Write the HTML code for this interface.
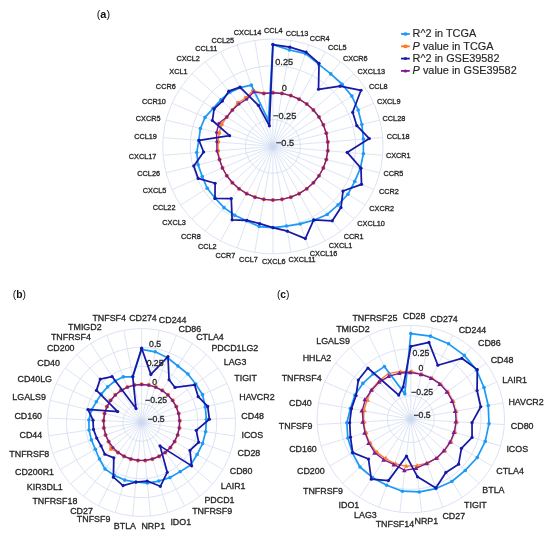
<!DOCTYPE html>
<html><head><meta charset="utf-8"><style>
html,body{margin:0;padding:0;background:#fff;}
svg{display:block;font-family:"Liberation Sans",Arial,Helvetica,sans-serif;}
</style></head><body>
<svg width="550" height="539" viewBox="0 0 550 539">
<defs><radialGradient id="blob"><stop offset="0" stop-color="#c6d5ec" stop-opacity="0.9"/><stop offset="0.55" stop-color="#cfdcf0" stop-opacity="0.6"/><stop offset="1" stop-color="#dde6f5" stop-opacity="0"/></radialGradient></defs>
<rect width="550" height="539" fill="#fff"/>
<ellipse cx="272.9" cy="146.4" rx="27.54" ry="26.85" fill="none" stroke="#d6dff3" stroke-width="0.9"/>
<ellipse cx="272.9" cy="146.4" rx="55.08" ry="53.7" fill="none" stroke="#d6dff3" stroke-width="0.9"/>
<ellipse cx="272.9" cy="146.4" rx="82.61" ry="80.55" fill="none" stroke="#d6dff3" stroke-width="0.9"/>
<ellipse cx="272.9" cy="146.4" rx="110.15" ry="107.4" fill="none" stroke="#d6dff3" stroke-width="0.9"/>
<path d="M272.9 146.4L272.9 39M272.9 146.4L291.03 40.46M272.9 146.4L308.67 44.82M272.9 146.4L325.33 51.94M272.9 146.4L340.56 61.65M272.9 146.4L353.94 73.66M272.9 146.4L365.11 87.66M272.9 146.4L373.77 103.26M272.9 146.4L379.68 120.03M272.9 146.4L382.67 137.53M272.9 146.4L382.67 155.27M272.9 146.4L379.68 172.77M272.9 146.4L373.77 189.54M272.9 146.4L365.11 205.14M272.9 146.4L353.94 219.14M272.9 146.4L340.56 231.15M272.9 146.4L325.33 240.86M272.9 146.4L308.67 247.98M272.9 146.4L291.03 252.34M272.9 146.4L272.9 253.8M272.9 146.4L254.77 252.34M272.9 146.4L237.13 247.98M272.9 146.4L220.47 240.86M272.9 146.4L205.24 231.15M272.9 146.4L191.86 219.14M272.9 146.4L180.69 205.14M272.9 146.4L172.03 189.54M272.9 146.4L166.12 172.77M272.9 146.4L163.13 155.27M272.9 146.4L163.13 137.53M272.9 146.4L166.12 120.03M272.9 146.4L172.03 103.26M272.9 146.4L180.69 87.66M272.9 146.4L191.86 73.66M272.9 146.4L205.24 61.65M272.9 146.4L220.47 51.94M272.9 146.4L237.13 44.82M272.9 146.4L254.77 40.46" stroke="#d6dff3" stroke-width="0.85" fill="none"/>
<circle cx="272.9" cy="146.4" r="6.5" fill="url(#blob)"/>
<polygon points="272.9,92.7 281.97,93.43 290.78,95.61 299.11,99.17 306.73,104.02 313.42,110.03 319.01,117.03 323.34,124.83 326.29,133.22 327.79,141.97 327.79,150.83 326.29,159.58 323.34,167.97 319.01,175.77 313.42,182.77 306.73,188.78 299.11,193.63 290.78,197.19 281.97,199.37 272.9,200.1 263.83,199.37 255.02,197.19 246.69,193.63 239.07,188.78 232.38,182.77 226.79,175.77 222.46,167.97 219.51,159.58 218.01,150.83 218.01,141.97 219.08,133.11 221.56,124.44 226.79,117.03 232.38,110.03 238.06,102.75 245.9,97.76 253.23,90.53 263.83,93.43" fill="none" stroke="#ff7b2c" stroke-width="1.3" stroke-linejoin="round"/>
<circle cx="272.9" cy="92.7" r="2.1" fill="#ff7b2c"/>
<circle cx="281.97" cy="93.43" r="2.1" fill="#ff7b2c"/>
<circle cx="290.78" cy="95.61" r="2.1" fill="#ff7b2c"/>
<circle cx="299.11" cy="99.17" r="2.1" fill="#ff7b2c"/>
<circle cx="306.73" cy="104.02" r="2.1" fill="#ff7b2c"/>
<circle cx="313.42" cy="110.03" r="2.1" fill="#ff7b2c"/>
<circle cx="319.01" cy="117.03" r="2.1" fill="#ff7b2c"/>
<circle cx="323.34" cy="124.83" r="2.1" fill="#ff7b2c"/>
<circle cx="326.29" cy="133.22" r="2.1" fill="#ff7b2c"/>
<circle cx="327.79" cy="141.97" r="2.1" fill="#ff7b2c"/>
<circle cx="327.79" cy="150.83" r="2.1" fill="#ff7b2c"/>
<circle cx="326.29" cy="159.58" r="2.1" fill="#ff7b2c"/>
<circle cx="323.34" cy="167.97" r="2.1" fill="#ff7b2c"/>
<circle cx="319.01" cy="175.77" r="2.1" fill="#ff7b2c"/>
<circle cx="313.42" cy="182.77" r="2.1" fill="#ff7b2c"/>
<circle cx="306.73" cy="188.78" r="2.1" fill="#ff7b2c"/>
<circle cx="299.11" cy="193.63" r="2.1" fill="#ff7b2c"/>
<circle cx="290.78" cy="197.19" r="2.1" fill="#ff7b2c"/>
<circle cx="281.97" cy="199.37" r="2.1" fill="#ff7b2c"/>
<circle cx="272.9" cy="200.1" r="2.1" fill="#ff7b2c"/>
<circle cx="263.83" cy="199.37" r="2.1" fill="#ff7b2c"/>
<circle cx="255.02" cy="197.19" r="2.1" fill="#ff7b2c"/>
<circle cx="246.69" cy="193.63" r="2.1" fill="#ff7b2c"/>
<circle cx="239.07" cy="188.78" r="2.1" fill="#ff7b2c"/>
<circle cx="232.38" cy="182.77" r="2.1" fill="#ff7b2c"/>
<circle cx="226.79" cy="175.77" r="2.1" fill="#ff7b2c"/>
<circle cx="222.46" cy="167.97" r="2.1" fill="#ff7b2c"/>
<circle cx="219.51" cy="159.58" r="2.1" fill="#ff7b2c"/>
<circle cx="218.01" cy="150.83" r="2.1" fill="#ff7b2c"/>
<circle cx="218.01" cy="141.97" r="2.1" fill="#ff7b2c"/>
<circle cx="219.08" cy="133.11" r="2.1" fill="#ff7b2c"/>
<circle cx="221.56" cy="124.44" r="2.1" fill="#ff7b2c"/>
<circle cx="226.79" cy="117.03" r="2.1" fill="#ff7b2c"/>
<circle cx="232.38" cy="110.03" r="2.1" fill="#ff7b2c"/>
<circle cx="238.06" cy="102.75" r="2.1" fill="#ff7b2c"/>
<circle cx="245.9" cy="97.76" r="2.1" fill="#ff7b2c"/>
<circle cx="253.23" cy="90.53" r="2.1" fill="#ff7b2c"/>
<circle cx="263.83" cy="93.43" r="2.1" fill="#ff7b2c"/>
<polygon points="272.9,44.6 289.4,49.98 305.55,53.68 318.58,64.1 330.76,73.92 342.14,84.25 351.84,96.11 358.16,109.93 361.84,124.44 363.38,139.09 363.37,153.71 360.42,168.01 354.79,181.42 347.96,194.21 338.09,204.91 327.21,214.44 313.85,220.17 300.2,223.93 286.53,226.06 272.9,227.6 259.18,226.55 246.72,220.74 234.7,215.23 224,207.65 215.17,198.22 207.22,188.24 202.25,176.62 198.19,164.85 196.74,152.55 198.8,140.41 200.42,128.5 205.04,117.38 213.14,108.33 220.94,99.76 229.76,92.36 240.27,87.62 251.34,85.15 268.43,120.29" fill="none" stroke="#1b99f7" stroke-width="1.7" stroke-linejoin="round"/>
<circle cx="272.9" cy="44.6" r="1.8" fill="#1b99f7"/>
<circle cx="289.4" cy="49.98" r="1.8" fill="#1b99f7"/>
<circle cx="305.55" cy="53.68" r="1.8" fill="#1b99f7"/>
<circle cx="318.58" cy="64.1" r="1.8" fill="#1b99f7"/>
<circle cx="330.76" cy="73.92" r="1.8" fill="#1b99f7"/>
<circle cx="342.14" cy="84.25" r="1.8" fill="#1b99f7"/>
<circle cx="351.84" cy="96.11" r="1.8" fill="#1b99f7"/>
<circle cx="358.16" cy="109.93" r="1.8" fill="#1b99f7"/>
<circle cx="361.84" cy="124.44" r="1.8" fill="#1b99f7"/>
<circle cx="363.38" cy="139.09" r="1.8" fill="#1b99f7"/>
<circle cx="363.37" cy="153.71" r="1.8" fill="#1b99f7"/>
<circle cx="360.42" cy="168.01" r="1.8" fill="#1b99f7"/>
<circle cx="354.79" cy="181.42" r="1.8" fill="#1b99f7"/>
<circle cx="347.96" cy="194.21" r="1.8" fill="#1b99f7"/>
<circle cx="338.09" cy="204.91" r="1.8" fill="#1b99f7"/>
<circle cx="327.21" cy="214.44" r="1.8" fill="#1b99f7"/>
<circle cx="313.85" cy="220.17" r="1.8" fill="#1b99f7"/>
<circle cx="300.2" cy="223.93" r="1.8" fill="#1b99f7"/>
<circle cx="286.53" cy="226.06" r="1.8" fill="#1b99f7"/>
<circle cx="272.9" cy="227.6" r="1.8" fill="#1b99f7"/>
<circle cx="259.18" cy="226.55" r="1.8" fill="#1b99f7"/>
<circle cx="246.72" cy="220.74" r="1.8" fill="#1b99f7"/>
<circle cx="234.7" cy="215.23" r="1.8" fill="#1b99f7"/>
<circle cx="224" cy="207.65" r="1.8" fill="#1b99f7"/>
<circle cx="215.17" cy="198.22" r="1.8" fill="#1b99f7"/>
<circle cx="207.22" cy="188.24" r="1.8" fill="#1b99f7"/>
<circle cx="202.25" cy="176.62" r="1.8" fill="#1b99f7"/>
<circle cx="198.19" cy="164.85" r="1.8" fill="#1b99f7"/>
<circle cx="196.74" cy="152.55" r="1.8" fill="#1b99f7"/>
<circle cx="198.8" cy="140.41" r="1.8" fill="#1b99f7"/>
<circle cx="200.42" cy="128.5" r="1.8" fill="#1b99f7"/>
<circle cx="205.04" cy="117.38" r="1.8" fill="#1b99f7"/>
<circle cx="213.14" cy="108.33" r="1.8" fill="#1b99f7"/>
<circle cx="220.94" cy="99.76" r="1.8" fill="#1b99f7"/>
<circle cx="229.76" cy="92.36" r="1.8" fill="#1b99f7"/>
<circle cx="240.27" cy="87.62" r="1.8" fill="#1b99f7"/>
<circle cx="251.34" cy="85.15" r="1.8" fill="#1b99f7"/>
<circle cx="268.43" cy="120.29" r="1.8" fill="#1b99f7"/>
<polygon points="272.9,92.7 281.97,93.43 290.78,95.61 299.11,99.17 306.73,104.02 313.42,110.03 319.01,117.03 323.34,124.83 326.29,133.22 327.79,141.97 327.79,150.83 326.29,159.58 323.34,167.97 319.01,175.77 313.42,182.77 306.73,188.78 299.11,193.63 290.78,197.19 281.97,199.37 272.9,200.1 263.83,199.37 255.02,197.19 246.69,193.63 239.07,188.78 232.38,182.77 226.79,175.77 222.46,167.97 219.51,159.58 216.92,150.92 216.81,141.87 216.52,132.48 218.93,123.32 226.79,117.03 232.38,110.03 239.07,104.02 246.69,99.17 253.77,92.05 263.83,93.43" fill="none" stroke="#7d1d8c" stroke-width="1.4" stroke-linejoin="round"/>
<circle cx="272.9" cy="92.7" r="1.5" fill="#7d1d8c"/>
<circle cx="281.97" cy="93.43" r="1.5" fill="#7d1d8c"/>
<circle cx="290.78" cy="95.61" r="1.5" fill="#7d1d8c"/>
<circle cx="299.11" cy="99.17" r="1.5" fill="#7d1d8c"/>
<circle cx="306.73" cy="104.02" r="1.5" fill="#7d1d8c"/>
<circle cx="313.42" cy="110.03" r="1.5" fill="#7d1d8c"/>
<circle cx="319.01" cy="117.03" r="1.5" fill="#7d1d8c"/>
<circle cx="323.34" cy="124.83" r="1.5" fill="#7d1d8c"/>
<circle cx="326.29" cy="133.22" r="1.5" fill="#7d1d8c"/>
<circle cx="327.79" cy="141.97" r="1.5" fill="#7d1d8c"/>
<circle cx="327.79" cy="150.83" r="1.5" fill="#7d1d8c"/>
<circle cx="326.29" cy="159.58" r="1.5" fill="#7d1d8c"/>
<circle cx="323.34" cy="167.97" r="1.5" fill="#7d1d8c"/>
<circle cx="319.01" cy="175.77" r="1.5" fill="#7d1d8c"/>
<circle cx="313.42" cy="182.77" r="1.5" fill="#7d1d8c"/>
<circle cx="306.73" cy="188.78" r="1.5" fill="#7d1d8c"/>
<circle cx="299.11" cy="193.63" r="1.5" fill="#7d1d8c"/>
<circle cx="290.78" cy="197.19" r="1.5" fill="#7d1d8c"/>
<circle cx="281.97" cy="199.37" r="1.5" fill="#7d1d8c"/>
<circle cx="272.9" cy="200.1" r="1.5" fill="#7d1d8c"/>
<circle cx="263.83" cy="199.37" r="1.5" fill="#7d1d8c"/>
<circle cx="255.02" cy="197.19" r="1.5" fill="#7d1d8c"/>
<circle cx="246.69" cy="193.63" r="1.5" fill="#7d1d8c"/>
<circle cx="239.07" cy="188.78" r="1.5" fill="#7d1d8c"/>
<circle cx="232.38" cy="182.77" r="1.5" fill="#7d1d8c"/>
<circle cx="226.79" cy="175.77" r="1.5" fill="#7d1d8c"/>
<circle cx="222.46" cy="167.97" r="1.5" fill="#7d1d8c"/>
<circle cx="219.51" cy="159.58" r="1.5" fill="#7d1d8c"/>
<circle cx="216.92" cy="150.92" r="1.5" fill="#7d1d8c"/>
<circle cx="216.81" cy="141.87" r="1.5" fill="#7d1d8c"/>
<circle cx="216.52" cy="132.48" r="1.5" fill="#7d1d8c"/>
<circle cx="218.93" cy="123.32" r="1.5" fill="#7d1d8c"/>
<circle cx="226.79" cy="117.03" r="1.5" fill="#7d1d8c"/>
<circle cx="232.38" cy="110.03" r="1.5" fill="#7d1d8c"/>
<circle cx="239.07" cy="104.02" r="1.5" fill="#7d1d8c"/>
<circle cx="246.69" cy="99.17" r="1.5" fill="#7d1d8c"/>
<circle cx="253.77" cy="92.05" r="1.5" fill="#7d1d8c"/>
<circle cx="263.83" cy="93.43" r="1.5" fill="#7d1d8c"/>
<polygon points="272.9,44.6 289.88,47.19 306.11,52.07 319.01,63.32 318.51,89.26 340.04,86.14 361.01,90.27 352.68,112.28 356.82,125.68 369.31,138.61 347.17,152.4 360.97,168.14 361.53,184.31 343,191.05 340.98,207.51 332.28,220.79 313.7,219.91 305.37,238.61 287.41,231.2 272.9,227.6 259.68,223.63 246.88,220.3 232.12,219.87 231.27,198.55 214.98,198.39 215.09,183.23 198.13,178.38 193.79,165.93 203.62,152 198.99,140.43 229.6,135.71 212.37,120.51 214.13,108.96 222.35,101.03 228.8,91.15 240.03,87.19 258.43,105.29 269.39,125.87" fill="none" stroke="#1619a6" stroke-width="1.75" stroke-linejoin="round"/>
<circle cx="272.9" cy="44.6" r="1.6" fill="#1619a6"/>
<circle cx="289.88" cy="47.19" r="1.6" fill="#1619a6"/>
<circle cx="306.11" cy="52.07" r="1.6" fill="#1619a6"/>
<circle cx="319.01" cy="63.32" r="1.6" fill="#1619a6"/>
<circle cx="318.51" cy="89.26" r="1.6" fill="#1619a6"/>
<circle cx="340.04" cy="86.14" r="1.6" fill="#1619a6"/>
<circle cx="361.01" cy="90.27" r="1.6" fill="#1619a6"/>
<circle cx="352.68" cy="112.28" r="1.6" fill="#1619a6"/>
<circle cx="356.82" cy="125.68" r="1.6" fill="#1619a6"/>
<circle cx="369.31" cy="138.61" r="1.6" fill="#1619a6"/>
<circle cx="347.17" cy="152.4" r="1.6" fill="#1619a6"/>
<circle cx="360.97" cy="168.14" r="1.6" fill="#1619a6"/>
<circle cx="361.53" cy="184.31" r="1.6" fill="#1619a6"/>
<circle cx="343" cy="191.05" r="1.6" fill="#1619a6"/>
<circle cx="340.98" cy="207.51" r="1.6" fill="#1619a6"/>
<circle cx="332.28" cy="220.79" r="1.6" fill="#1619a6"/>
<circle cx="313.7" cy="219.91" r="1.6" fill="#1619a6"/>
<circle cx="305.37" cy="238.61" r="1.6" fill="#1619a6"/>
<circle cx="287.41" cy="231.2" r="1.6" fill="#1619a6"/>
<circle cx="272.9" cy="227.6" r="1.6" fill="#1619a6"/>
<circle cx="259.68" cy="223.63" r="1.6" fill="#1619a6"/>
<circle cx="246.88" cy="220.3" r="1.6" fill="#1619a6"/>
<circle cx="232.12" cy="219.87" r="1.6" fill="#1619a6"/>
<circle cx="231.27" cy="198.55" r="1.6" fill="#1619a6"/>
<circle cx="214.98" cy="198.39" r="1.6" fill="#1619a6"/>
<circle cx="215.09" cy="183.23" r="1.6" fill="#1619a6"/>
<circle cx="198.13" cy="178.38" r="1.6" fill="#1619a6"/>
<circle cx="193.79" cy="165.93" r="1.6" fill="#1619a6"/>
<circle cx="203.62" cy="152" r="1.6" fill="#1619a6"/>
<circle cx="198.99" cy="140.43" r="1.6" fill="#1619a6"/>
<circle cx="229.6" cy="135.71" r="1.6" fill="#1619a6"/>
<circle cx="212.37" cy="120.51" r="1.6" fill="#1619a6"/>
<circle cx="214.13" cy="108.96" r="1.6" fill="#1619a6"/>
<circle cx="222.35" cy="101.03" r="1.6" fill="#1619a6"/>
<circle cx="228.8" cy="91.15" r="1.6" fill="#1619a6"/>
<circle cx="240.03" cy="87.19" r="1.6" fill="#1619a6"/>
<circle cx="258.43" cy="105.29" r="1.6" fill="#1619a6"/>
<circle cx="269.39" cy="125.87" r="1.6" fill="#1619a6"/>
<text x="284.2" y="64.9" text-anchor="middle" font-size="9.2" fill="#262626" stroke="#262626" stroke-width="0.3">0.25</text>
<text x="284.2" y="91.1" text-anchor="middle" font-size="9.2" fill="#262626" stroke="#262626" stroke-width="0.3">0</text>
<text x="284.7" y="118.9" text-anchor="middle" font-size="9.2" fill="#262626" stroke="#262626" stroke-width="0.3">−0.25</text>
<text x="285" y="146" text-anchor="middle" font-size="9.2" fill="#262626" stroke="#262626" stroke-width="0.3">−0.5</text>
<text x="273.3" y="32.9" text-anchor="middle" font-size="7.3" fill="#262626" stroke="#262626" stroke-width="0.3">CCL4</text>
<text x="297.05" y="35.7" text-anchor="middle" font-size="7.3" fill="#262626" stroke="#262626" stroke-width="0.3">CCL13</text>
<text x="319.7" y="40.7" text-anchor="middle" font-size="7.3" fill="#262626" stroke="#262626" stroke-width="0.3">CCR4</text>
<text x="337.35" y="50.3" text-anchor="middle" font-size="7.3" fill="#262626" stroke="#262626" stroke-width="0.3">CCL5</text>
<text x="355.25" y="60.8" text-anchor="middle" font-size="7.3" fill="#262626" stroke="#262626" stroke-width="0.3">CXCR6</text>
<text x="371.4" y="73.7" text-anchor="middle" font-size="7.3" fill="#262626" stroke="#262626" stroke-width="0.3">CXCL13</text>
<text x="378.35" y="89.2" text-anchor="middle" font-size="7.3" fill="#262626" stroke="#262626" stroke-width="0.3">CCL8</text>
<text x="388.7" y="104.2" text-anchor="middle" font-size="7.3" fill="#262626" stroke="#262626" stroke-width="0.3">CXCL9</text>
<text x="393.95" y="120.9" text-anchor="middle" font-size="7.3" fill="#262626" stroke="#262626" stroke-width="0.3">CCL28</text>
<text x="398.15" y="138.7" text-anchor="middle" font-size="7.3" fill="#262626" stroke="#262626" stroke-width="0.3">CCL18</text>
<text x="398.25" y="157.8" text-anchor="middle" font-size="7.3" fill="#262626" stroke="#262626" stroke-width="0.3">CXCR1</text>
<text x="393.5" y="176.4" text-anchor="middle" font-size="7.3" fill="#262626" stroke="#262626" stroke-width="0.3">CCR5</text>
<text x="388.85" y="194.2" text-anchor="middle" font-size="7.3" fill="#262626" stroke="#262626" stroke-width="0.3">CCR2</text>
<text x="381.65" y="210.8" text-anchor="middle" font-size="7.3" fill="#262626" stroke="#262626" stroke-width="0.3">CXCR2</text>
<text x="371.1" y="225.8" text-anchor="middle" font-size="7.3" fill="#262626" stroke="#262626" stroke-width="0.3">CXCL10</text>
<text x="353.65" y="238.5" text-anchor="middle" font-size="7.3" fill="#262626" stroke="#262626" stroke-width="0.3">CCR1</text>
<text x="340.55" y="247.6" text-anchor="middle" font-size="7.3" fill="#262626" stroke="#262626" stroke-width="0.3">CXCL1</text>
<text x="323.6" y="256" text-anchor="middle" font-size="7.3" fill="#262626" stroke="#262626" stroke-width="0.3">CXCL16</text>
<text x="302.1" y="262.2" text-anchor="middle" font-size="7.3" fill="#262626" stroke="#262626" stroke-width="0.3">CXCL11</text>
<text x="273.85" y="264" text-anchor="middle" font-size="7.3" fill="#262626" stroke="#262626" stroke-width="0.3">CXCL6</text>
<text x="248.45" y="262.4" text-anchor="middle" font-size="7.3" fill="#262626" stroke="#262626" stroke-width="0.3">CCL7</text>
<text x="225.5" y="257.8" text-anchor="middle" font-size="7.3" fill="#262626" stroke="#262626" stroke-width="0.3">CCR7</text>
<text x="207.25" y="248.7" text-anchor="middle" font-size="7.3" fill="#262626" stroke="#262626" stroke-width="0.3">CCL2</text>
<text x="190.9" y="238.5" text-anchor="middle" font-size="7.3" fill="#262626" stroke="#262626" stroke-width="0.3">CCR8</text>
<text x="174.1" y="224.5" text-anchor="middle" font-size="7.3" fill="#262626" stroke="#262626" stroke-width="0.3">CXCL3</text>
<text x="164.1" y="210" text-anchor="middle" font-size="7.3" fill="#262626" stroke="#262626" stroke-width="0.3">CCL22</text>
<text x="154.55" y="193.3" text-anchor="middle" font-size="7.3" fill="#262626" stroke="#262626" stroke-width="0.3">CXCL5</text>
<text x="148.65" y="176.4" text-anchor="middle" font-size="7.3" fill="#262626" stroke="#262626" stroke-width="0.3">CCL26</text>
<text x="142.6" y="158.5" text-anchor="middle" font-size="7.3" fill="#262626" stroke="#262626" stroke-width="0.3">CXCL17</text>
<text x="145.5" y="139" text-anchor="middle" font-size="7.3" fill="#262626" stroke="#262626" stroke-width="0.3">CCL19</text>
<text x="148.2" y="121.4" text-anchor="middle" font-size="7.3" fill="#262626" stroke="#262626" stroke-width="0.3">CXCR5</text>
<text x="153.95" y="104.3" text-anchor="middle" font-size="7.3" fill="#262626" stroke="#262626" stroke-width="0.3">CCR10</text>
<text x="165.8" y="88.6" text-anchor="middle" font-size="7.3" fill="#262626" stroke="#262626" stroke-width="0.3">CCR6</text>
<text x="178.45" y="73.7" text-anchor="middle" font-size="7.3" fill="#262626" stroke="#262626" stroke-width="0.3">XCL1</text>
<text x="188.15" y="60.8" text-anchor="middle" font-size="7.3" fill="#262626" stroke="#262626" stroke-width="0.3">CXCL2</text>
<text x="206.35" y="50.5" text-anchor="middle" font-size="7.3" fill="#262626" stroke="#262626" stroke-width="0.3">CCL11</text>
<text x="222.75" y="42.9" text-anchor="middle" font-size="7.3" fill="#262626" stroke="#262626" stroke-width="0.3">CCL25</text>
<text x="247.65" y="34.8" text-anchor="middle" font-size="7.3" fill="#262626" stroke="#262626" stroke-width="0.3">CXCL14</text>
<ellipse cx="141.6" cy="422.5" rx="18.78" ry="18.78" fill="none" stroke="#d6dff3" stroke-width="0.9"/>
<ellipse cx="141.6" cy="422.5" rx="37.56" ry="37.56" fill="none" stroke="#d6dff3" stroke-width="0.9"/>
<ellipse cx="141.6" cy="422.5" rx="56.34" ry="56.34" fill="none" stroke="#d6dff3" stroke-width="0.9"/>
<ellipse cx="141.6" cy="422.5" rx="75.12" ry="75.12" fill="none" stroke="#d6dff3" stroke-width="0.9"/>
<ellipse cx="141.6" cy="422.5" rx="93.9" ry="93.9" fill="none" stroke="#d6dff3" stroke-width="0.9"/>
<path d="M141.6 422.5L141.6 328.6M141.6 422.5L159.37 330.3M141.6 422.5L176.5 335.33M141.6 422.5L192.37 343.51M141.6 422.5L206.4 354.54M141.6 422.5L218.09 368.03M141.6 422.5L227.01 383.49M141.6 422.5L232.85 400.36M141.6 422.5L235.39 418.03M141.6 422.5L234.54 435.86M141.6 422.5L230.34 453.21M141.6 422.5L222.92 469.45M141.6 422.5L212.56 483.99M141.6 422.5L199.65 496.31M141.6 422.5L184.63 505.96M141.6 422.5L168.05 512.6M141.6 422.5L150.53 515.97M141.6 422.5L132.67 515.97M141.6 422.5L115.15 512.6M141.6 422.5L98.57 505.96M141.6 422.5L83.55 496.31M141.6 422.5L70.64 483.99M141.6 422.5L60.28 469.45M141.6 422.5L52.86 453.21M141.6 422.5L48.66 435.86M141.6 422.5L47.81 418.03M141.6 422.5L50.35 400.36M141.6 422.5L56.19 383.49M141.6 422.5L65.11 368.03M141.6 422.5L76.8 354.54M141.6 422.5L90.83 343.51M141.6 422.5L106.7 335.33M141.6 422.5L123.83 330.3" stroke="#d6dff3" stroke-width="0.85" fill="none"/>
<circle cx="141.6" cy="422.5" r="6.5" fill="url(#blob)"/>
<polygon points="141.6,384.28 148.83,384.97 155.8,387.02 162.26,390.35 167.97,394.84 172.73,400.33 176.36,406.62 178.74,413.49 179.77,420.68 179.43,427.94 177.72,435 174.7,441.61 170.48,447.53 165.22,452.54 159.11,456.47 152.37,459.17 145.23,460.54 137.97,460.54 130.83,459.17 124.09,456.47 117.98,452.54 111.09,448.94 108.5,441.61 105.48,435 103.77,427.94 103.43,420.68 104.46,413.49 106.84,406.62 110.47,400.33 115.23,394.84 120.94,390.35 127.4,387.02 134.37,384.97" fill="none" stroke="#ff7b2c" stroke-width="1.3" stroke-linejoin="round"/>
<circle cx="141.6" cy="384.28" r="2.1" fill="#ff7b2c"/>
<circle cx="148.83" cy="384.97" r="2.1" fill="#ff7b2c"/>
<circle cx="155.8" cy="387.02" r="2.1" fill="#ff7b2c"/>
<circle cx="162.26" cy="390.35" r="2.1" fill="#ff7b2c"/>
<circle cx="167.97" cy="394.84" r="2.1" fill="#ff7b2c"/>
<circle cx="172.73" cy="400.33" r="2.1" fill="#ff7b2c"/>
<circle cx="176.36" cy="406.62" r="2.1" fill="#ff7b2c"/>
<circle cx="178.74" cy="413.49" r="2.1" fill="#ff7b2c"/>
<circle cx="179.77" cy="420.68" r="2.1" fill="#ff7b2c"/>
<circle cx="179.43" cy="427.94" r="2.1" fill="#ff7b2c"/>
<circle cx="177.72" cy="435" r="2.1" fill="#ff7b2c"/>
<circle cx="174.7" cy="441.61" r="2.1" fill="#ff7b2c"/>
<circle cx="170.48" cy="447.53" r="2.1" fill="#ff7b2c"/>
<circle cx="165.22" cy="452.54" r="2.1" fill="#ff7b2c"/>
<circle cx="159.11" cy="456.47" r="2.1" fill="#ff7b2c"/>
<circle cx="152.37" cy="459.17" r="2.1" fill="#ff7b2c"/>
<circle cx="145.23" cy="460.54" r="2.1" fill="#ff7b2c"/>
<circle cx="137.97" cy="460.54" r="2.1" fill="#ff7b2c"/>
<circle cx="130.83" cy="459.17" r="2.1" fill="#ff7b2c"/>
<circle cx="124.09" cy="456.47" r="2.1" fill="#ff7b2c"/>
<circle cx="117.98" cy="452.54" r="2.1" fill="#ff7b2c"/>
<circle cx="111.09" cy="448.94" r="2.1" fill="#ff7b2c"/>
<circle cx="108.5" cy="441.61" r="2.1" fill="#ff7b2c"/>
<circle cx="105.48" cy="435" r="2.1" fill="#ff7b2c"/>
<circle cx="103.77" cy="427.94" r="2.1" fill="#ff7b2c"/>
<circle cx="103.43" cy="420.68" r="2.1" fill="#ff7b2c"/>
<circle cx="104.46" cy="413.49" r="2.1" fill="#ff7b2c"/>
<circle cx="106.84" cy="406.62" r="2.1" fill="#ff7b2c"/>
<circle cx="110.47" cy="400.33" r="2.1" fill="#ff7b2c"/>
<circle cx="115.23" cy="394.84" r="2.1" fill="#ff7b2c"/>
<circle cx="120.94" cy="390.35" r="2.1" fill="#ff7b2c"/>
<circle cx="127.4" cy="387.02" r="2.1" fill="#ff7b2c"/>
<circle cx="134.37" cy="384.97" r="2.1" fill="#ff7b2c"/>
<polygon points="141.6,349.4 155.23,351.79 167.52,357.75 177.94,365.96 187.88,373.97 195.72,383.96 202.53,394.67 205.29,407.05 206.42,419.41 205.66,431.71 202.56,443.6 197.11,454.55 190.64,464.99 180.23,471.62 170,477.6 158.79,481.06 147.38,483.06 135.92,481.99 124.69,480.09 114.34,475.39 105.02,469.02 99.49,458.99 95.3,449.23 91.37,439.89 89.04,430.06 88.89,419.99 91.32,410.3 96.31,401.82 101.44,393.9 107.63,386.87 114.95,381.03 123.32,376.83 132.8,376.86" fill="none" stroke="#1b99f7" stroke-width="1.7" stroke-linejoin="round"/>
<circle cx="141.6" cy="349.4" r="1.8" fill="#1b99f7"/>
<circle cx="155.23" cy="351.79" r="1.8" fill="#1b99f7"/>
<circle cx="167.52" cy="357.75" r="1.8" fill="#1b99f7"/>
<circle cx="177.94" cy="365.96" r="1.8" fill="#1b99f7"/>
<circle cx="187.88" cy="373.97" r="1.8" fill="#1b99f7"/>
<circle cx="195.72" cy="383.96" r="1.8" fill="#1b99f7"/>
<circle cx="202.53" cy="394.67" r="1.8" fill="#1b99f7"/>
<circle cx="205.29" cy="407.05" r="1.8" fill="#1b99f7"/>
<circle cx="206.42" cy="419.41" r="1.8" fill="#1b99f7"/>
<circle cx="205.66" cy="431.71" r="1.8" fill="#1b99f7"/>
<circle cx="202.56" cy="443.6" r="1.8" fill="#1b99f7"/>
<circle cx="197.11" cy="454.55" r="1.8" fill="#1b99f7"/>
<circle cx="190.64" cy="464.99" r="1.8" fill="#1b99f7"/>
<circle cx="180.23" cy="471.62" r="1.8" fill="#1b99f7"/>
<circle cx="170" cy="477.6" r="1.8" fill="#1b99f7"/>
<circle cx="158.79" cy="481.06" r="1.8" fill="#1b99f7"/>
<circle cx="147.38" cy="483.06" r="1.8" fill="#1b99f7"/>
<circle cx="135.92" cy="481.99" r="1.8" fill="#1b99f7"/>
<circle cx="124.69" cy="480.09" r="1.8" fill="#1b99f7"/>
<circle cx="114.34" cy="475.39" r="1.8" fill="#1b99f7"/>
<circle cx="105.02" cy="469.02" r="1.8" fill="#1b99f7"/>
<circle cx="99.49" cy="458.99" r="1.8" fill="#1b99f7"/>
<circle cx="95.3" cy="449.23" r="1.8" fill="#1b99f7"/>
<circle cx="91.37" cy="439.89" r="1.8" fill="#1b99f7"/>
<circle cx="89.04" cy="430.06" r="1.8" fill="#1b99f7"/>
<circle cx="88.89" cy="419.99" r="1.8" fill="#1b99f7"/>
<circle cx="91.32" cy="410.3" r="1.8" fill="#1b99f7"/>
<circle cx="96.31" cy="401.82" r="1.8" fill="#1b99f7"/>
<circle cx="101.44" cy="393.9" r="1.8" fill="#1b99f7"/>
<circle cx="107.63" cy="386.87" r="1.8" fill="#1b99f7"/>
<circle cx="114.95" cy="381.03" r="1.8" fill="#1b99f7"/>
<circle cx="123.32" cy="376.83" r="1.8" fill="#1b99f7"/>
<circle cx="132.8" cy="376.86" r="1.8" fill="#1b99f7"/>
<polygon points="141.6,384.47 148.8,385.16 155.73,387.19 162.16,390.51 167.84,394.98 172.58,400.44 176.19,406.7 178.56,413.53 179.59,420.69 179.24,427.91 177.54,434.94 174.53,441.51 170.34,447.4 165.11,452.39 159.03,456.3 152.31,458.99 145.21,460.36 137.99,460.36 130.89,458.99 124.17,456.3 118.09,452.39 112.86,447.4 108.67,441.51 105.66,434.94 103.96,427.91 103.61,420.69 104.64,413.53 107.01,406.7 110.62,400.44 115.36,394.98 121.04,390.51 127.47,387.19 134.4,385.16" fill="none" stroke="#7d1d8c" stroke-width="1.4" stroke-linejoin="round"/>
<circle cx="141.6" cy="384.47" r="1.5" fill="#7d1d8c"/>
<circle cx="148.8" cy="385.16" r="1.5" fill="#7d1d8c"/>
<circle cx="155.73" cy="387.19" r="1.5" fill="#7d1d8c"/>
<circle cx="162.16" cy="390.51" r="1.5" fill="#7d1d8c"/>
<circle cx="167.84" cy="394.98" r="1.5" fill="#7d1d8c"/>
<circle cx="172.58" cy="400.44" r="1.5" fill="#7d1d8c"/>
<circle cx="176.19" cy="406.7" r="1.5" fill="#7d1d8c"/>
<circle cx="178.56" cy="413.53" r="1.5" fill="#7d1d8c"/>
<circle cx="179.59" cy="420.69" r="1.5" fill="#7d1d8c"/>
<circle cx="179.24" cy="427.91" r="1.5" fill="#7d1d8c"/>
<circle cx="177.54" cy="434.94" r="1.5" fill="#7d1d8c"/>
<circle cx="174.53" cy="441.51" r="1.5" fill="#7d1d8c"/>
<circle cx="170.34" cy="447.4" r="1.5" fill="#7d1d8c"/>
<circle cx="165.11" cy="452.39" r="1.5" fill="#7d1d8c"/>
<circle cx="159.03" cy="456.3" r="1.5" fill="#7d1d8c"/>
<circle cx="152.31" cy="458.99" r="1.5" fill="#7d1d8c"/>
<circle cx="145.21" cy="460.36" r="1.5" fill="#7d1d8c"/>
<circle cx="137.99" cy="460.36" r="1.5" fill="#7d1d8c"/>
<circle cx="130.89" cy="458.99" r="1.5" fill="#7d1d8c"/>
<circle cx="124.17" cy="456.3" r="1.5" fill="#7d1d8c"/>
<circle cx="118.09" cy="452.39" r="1.5" fill="#7d1d8c"/>
<circle cx="112.86" cy="447.4" r="1.5" fill="#7d1d8c"/>
<circle cx="108.67" cy="441.51" r="1.5" fill="#7d1d8c"/>
<circle cx="105.66" cy="434.94" r="1.5" fill="#7d1d8c"/>
<circle cx="103.96" cy="427.91" r="1.5" fill="#7d1d8c"/>
<circle cx="103.61" cy="420.69" r="1.5" fill="#7d1d8c"/>
<circle cx="104.64" cy="413.53" r="1.5" fill="#7d1d8c"/>
<circle cx="107.01" cy="406.7" r="1.5" fill="#7d1d8c"/>
<circle cx="110.62" cy="400.44" r="1.5" fill="#7d1d8c"/>
<circle cx="115.36" cy="394.98" r="1.5" fill="#7d1d8c"/>
<circle cx="121.04" cy="390.51" r="1.5" fill="#7d1d8c"/>
<circle cx="127.47" cy="387.19" r="1.5" fill="#7d1d8c"/>
<circle cx="134.4" cy="385.16" r="1.5" fill="#7d1d8c"/>
<polygon points="141.6,348.2 150.88,374.38 167.98,356.59 169.06,379.77 175.03,387.44 194.59,384.77 198.21,396.65 207.71,406.46 209.41,419.27 196.28,430.36 198.68,442.26 189.97,450.43 191.65,465.87 159.98,445.87 167.26,472.27 160.33,486.3 147.19,481.04 135.92,482.03 123.07,485.62 113.4,477.21 113.81,457.84 104.93,454.27 101.02,445.93 96.71,438.04 93.46,429.42 93,420.18 87.93,409.48 117.67,411.57 96.49,390.38 100.2,379.09 112.07,376.55 136.03,408.59 132.74,376.54" fill="none" stroke="#1619a6" stroke-width="1.75" stroke-linejoin="round"/>
<circle cx="141.6" cy="348.2" r="1.6" fill="#1619a6"/>
<circle cx="150.88" cy="374.38" r="1.6" fill="#1619a6"/>
<circle cx="167.98" cy="356.59" r="1.6" fill="#1619a6"/>
<circle cx="169.06" cy="379.77" r="1.6" fill="#1619a6"/>
<circle cx="175.03" cy="387.44" r="1.6" fill="#1619a6"/>
<circle cx="194.59" cy="384.77" r="1.6" fill="#1619a6"/>
<circle cx="198.21" cy="396.65" r="1.6" fill="#1619a6"/>
<circle cx="207.71" cy="406.46" r="1.6" fill="#1619a6"/>
<circle cx="209.41" cy="419.27" r="1.6" fill="#1619a6"/>
<circle cx="196.28" cy="430.36" r="1.6" fill="#1619a6"/>
<circle cx="198.68" cy="442.26" r="1.6" fill="#1619a6"/>
<circle cx="189.97" cy="450.43" r="1.6" fill="#1619a6"/>
<circle cx="191.65" cy="465.87" r="1.6" fill="#1619a6"/>
<circle cx="159.98" cy="445.87" r="1.6" fill="#1619a6"/>
<circle cx="167.26" cy="472.27" r="1.6" fill="#1619a6"/>
<circle cx="160.33" cy="486.3" r="1.6" fill="#1619a6"/>
<circle cx="147.19" cy="481.04" r="1.6" fill="#1619a6"/>
<circle cx="135.92" cy="482.03" r="1.6" fill="#1619a6"/>
<circle cx="123.07" cy="485.62" r="1.6" fill="#1619a6"/>
<circle cx="113.4" cy="477.21" r="1.6" fill="#1619a6"/>
<circle cx="113.81" cy="457.84" r="1.6" fill="#1619a6"/>
<circle cx="104.93" cy="454.27" r="1.6" fill="#1619a6"/>
<circle cx="101.02" cy="445.93" r="1.6" fill="#1619a6"/>
<circle cx="96.71" cy="438.04" r="1.6" fill="#1619a6"/>
<circle cx="93.46" cy="429.42" r="1.6" fill="#1619a6"/>
<circle cx="93" cy="420.18" r="1.6" fill="#1619a6"/>
<circle cx="87.93" cy="409.48" r="1.6" fill="#1619a6"/>
<circle cx="117.67" cy="411.57" r="1.6" fill="#1619a6"/>
<circle cx="96.49" cy="390.38" r="1.6" fill="#1619a6"/>
<circle cx="100.2" cy="379.09" r="1.6" fill="#1619a6"/>
<circle cx="112.07" cy="376.55" r="1.6" fill="#1619a6"/>
<circle cx="136.03" cy="408.59" r="1.6" fill="#1619a6"/>
<circle cx="132.74" cy="376.54" r="1.6" fill="#1619a6"/>
<text x="155.1" y="346.7" text-anchor="middle" font-size="8.7" fill="#262626" stroke="#262626" stroke-width="0.3">0.5</text>
<text x="155.1" y="365.6" text-anchor="middle" font-size="8.7" fill="#262626" stroke="#262626" stroke-width="0.3">0.25</text>
<text x="154.6" y="384.6" text-anchor="middle" font-size="8.7" fill="#262626" stroke="#262626" stroke-width="0.3">0</text>
<text x="156.1" y="403.4" text-anchor="middle" font-size="8.7" fill="#262626" stroke="#262626" stroke-width="0.3">−0.25</text>
<text x="156.1" y="422.1" text-anchor="middle" font-size="8.7" fill="#262626" stroke="#262626" stroke-width="0.3">−0.5</text>
<text x="142.95" y="320.7" text-anchor="middle" font-size="8.9" fill="#262626" stroke="#262626" stroke-width="0.3">CD274</text>
<text x="172.65" y="322.9" text-anchor="middle" font-size="8.9" fill="#262626" stroke="#262626" stroke-width="0.3">CD244</text>
<text x="189.85" y="331.6" text-anchor="middle" font-size="8.9" fill="#262626" stroke="#262626" stroke-width="0.3">CD86</text>
<text x="209.95" y="339.5" text-anchor="middle" font-size="8.9" fill="#262626" stroke="#262626" stroke-width="0.3">CTLA4</text>
<text x="234.85" y="350.9" text-anchor="middle" font-size="8.9" fill="#262626" stroke="#262626" stroke-width="0.3">PDCD1LG2</text>
<text x="235.1" y="364.7" text-anchor="middle" font-size="8.9" fill="#262626" stroke="#262626" stroke-width="0.3">LAG3</text>
<text x="245.65" y="381.1" text-anchor="middle" font-size="8.9" fill="#262626" stroke="#262626" stroke-width="0.3">TIGIT</text>
<text x="256.95" y="400" text-anchor="middle" font-size="8.9" fill="#262626" stroke="#262626" stroke-width="0.3">HAVCR2</text>
<text x="252.7" y="419" text-anchor="middle" font-size="8.9" fill="#262626" stroke="#262626" stroke-width="0.3">CD48</text>
<text x="252.35" y="437.9" text-anchor="middle" font-size="8.9" fill="#262626" stroke="#262626" stroke-width="0.3">ICOS</text>
<text x="248.95" y="456.3" text-anchor="middle" font-size="8.9" fill="#262626" stroke="#262626" stroke-width="0.3">CD28</text>
<text x="241.1" y="474" text-anchor="middle" font-size="8.9" fill="#262626" stroke="#262626" stroke-width="0.3">CD80</text>
<text x="233.15" y="489.3" text-anchor="middle" font-size="8.9" fill="#262626" stroke="#262626" stroke-width="0.3">LAIR1</text>
<text x="219.45" y="503" text-anchor="middle" font-size="8.9" fill="#262626" stroke="#262626" stroke-width="0.3">PDCD1</text>
<text x="212.1" y="513.7" text-anchor="middle" font-size="8.9" fill="#262626" stroke="#262626" stroke-width="0.3">TNFRSF9</text>
<text x="180.75" y="525.3" text-anchor="middle" font-size="8.9" fill="#262626" stroke="#262626" stroke-width="0.3">IDO1</text>
<text x="153.25" y="528.8" text-anchor="middle" font-size="8.9" fill="#262626" stroke="#262626" stroke-width="0.3">NRP1</text>
<text x="124.95" y="528.8" text-anchor="middle" font-size="8.9" fill="#262626" stroke="#262626" stroke-width="0.3">BTLA</text>
<text x="93.6" y="522.3" text-anchor="middle" font-size="8.9" fill="#262626" stroke="#262626" stroke-width="0.3">TNFSF9</text>
<text x="81.5" y="514" text-anchor="middle" font-size="8.9" fill="#262626" stroke="#262626" stroke-width="0.3">CD27</text>
<text x="54.9" y="503.8" text-anchor="middle" font-size="8.9" fill="#262626" stroke="#262626" stroke-width="0.3">TNFRSF18</text>
<text x="44.8" y="489.6" text-anchor="middle" font-size="8.9" fill="#262626" stroke="#262626" stroke-width="0.3">KIR3DL1</text>
<text x="34.55" y="474.5" text-anchor="middle" font-size="8.9" fill="#262626" stroke="#262626" stroke-width="0.3">CD200R1</text>
<text x="29.3" y="456.9" text-anchor="middle" font-size="8.9" fill="#262626" stroke="#262626" stroke-width="0.3">TNFRSF8</text>
<text x="30.9" y="438.2" text-anchor="middle" font-size="8.9" fill="#262626" stroke="#262626" stroke-width="0.3">CD44</text>
<text x="28.2" y="419.1" text-anchor="middle" font-size="8.9" fill="#262626" stroke="#262626" stroke-width="0.3">CD160</text>
<text x="29.1" y="400.4" text-anchor="middle" font-size="8.9" fill="#262626" stroke="#262626" stroke-width="0.3">LGALS9</text>
<text x="34.75" y="382.4" text-anchor="middle" font-size="8.9" fill="#262626" stroke="#262626" stroke-width="0.3">CD40LG</text>
<text x="48.65" y="365.8" text-anchor="middle" font-size="8.9" fill="#262626" stroke="#262626" stroke-width="0.3">CD40</text>
<text x="60.7" y="351.3" text-anchor="middle" font-size="8.9" fill="#262626" stroke="#262626" stroke-width="0.3">CD200</text>
<text x="70.85" y="340" text-anchor="middle" font-size="8.9" fill="#262626" stroke="#262626" stroke-width="0.3">TNFRSF4</text>
<text x="84.85" y="329.5" text-anchor="middle" font-size="8.9" fill="#262626" stroke="#262626" stroke-width="0.3">TMIGD2</text>
<text x="109.2" y="321.4" text-anchor="middle" font-size="8.9" fill="#262626" stroke="#262626" stroke-width="0.3">TNFSF4</text>
<ellipse cx="410.8" cy="419.1" rx="23.43" ry="23.43" fill="none" stroke="#d6dff3" stroke-width="0.9"/>
<ellipse cx="410.8" cy="419.1" rx="46.85" ry="46.85" fill="none" stroke="#d6dff3" stroke-width="0.9"/>
<ellipse cx="410.8" cy="419.1" rx="70.28" ry="70.28" fill="none" stroke="#d6dff3" stroke-width="0.9"/>
<ellipse cx="410.8" cy="419.1" rx="93.7" ry="93.7" fill="none" stroke="#d6dff3" stroke-width="0.9"/>
<path d="M410.8 419.1L410.8 325.4M410.8 419.1L432.41 327.93M410.8 419.1L452.85 335.37M410.8 419.1L471.03 347.32M410.8 419.1L485.96 363.15M410.8 419.1L496.84 381.99M410.8 419.1L503.08 402.83M410.8 419.1L504.34 424.55M410.8 419.1L500.56 445.97M410.8 419.1L491.95 465.95M410.8 419.1L478.95 483.4M410.8 419.1L462.29 497.39M410.8 419.1L442.85 507.15M410.8 419.1L421.68 512.17M410.8 419.1L399.92 512.17M410.8 419.1L378.75 507.15M410.8 419.1L359.31 497.39M410.8 419.1L342.65 483.4M410.8 419.1L329.65 465.95M410.8 419.1L321.04 445.97M410.8 419.1L317.26 424.55M410.8 419.1L318.52 402.83M410.8 419.1L324.76 381.99M410.8 419.1L335.64 363.15M410.8 419.1L350.57 347.32M410.8 419.1L368.75 335.37M410.8 419.1L389.19 327.93" stroke="#d6dff3" stroke-width="0.85" fill="none"/>
<circle cx="410.8" cy="419.1" r="6.5" fill="url(#blob)"/>
<polygon points="410.8,371.31 421.39,374.42 431.41,378.07 440.19,384.07 447.33,391.91 452.53,401.1 455.55,411.21 456.17,421.74 454.34,432.13 450.4,441.96 444.2,450.61 436.54,458.24 426.82,463.12 416.24,465.63 405.31,466.1 394.62,463.56 385.06,458.24 376.04,451.89 369.58,442.9 365.47,432.67 363.56,421.85 363.74,410.8 366.92,400.17 371.27,389.67 378.82,380.99 388.01,373.72 399.56,371.69" fill="none" stroke="#ff7b2c" stroke-width="1.3" stroke-linejoin="round"/>
<path d="M411.7 368.91L413.9 372.87L409.5 372.87Z" fill="#ff7b2c"/>
<path d="M422.29 372.02L424.49 375.98L420.09 375.98Z" fill="#ff7b2c"/>
<path d="M432.31 375.67L434.51 379.63L430.11 379.63Z" fill="#ff7b2c"/>
<path d="M441.09 381.67L443.29 385.63L438.89 385.63Z" fill="#ff7b2c"/>
<path d="M448.23 389.51L450.43 393.47L446.03 393.47Z" fill="#ff7b2c"/>
<path d="M453.43 398.7L455.63 402.66L451.23 402.66Z" fill="#ff7b2c"/>
<path d="M456.45 408.81L458.65 412.77L454.25 412.77Z" fill="#ff7b2c"/>
<path d="M457.07 419.34L459.27 423.3L454.87 423.3Z" fill="#ff7b2c"/>
<path d="M455.24 429.73L457.44 433.69L453.04 433.69Z" fill="#ff7b2c"/>
<path d="M451.3 439.56L453.5 443.52L449.1 443.52Z" fill="#ff7b2c"/>
<path d="M445.1 448.21L447.3 452.17L442.9 452.17Z" fill="#ff7b2c"/>
<path d="M437.44 455.84L439.64 459.8L435.24 459.8Z" fill="#ff7b2c"/>
<path d="M427.72 460.72L429.92 464.68L425.52 464.68Z" fill="#ff7b2c"/>
<path d="M417.14 463.23L419.34 467.19L414.94 467.19Z" fill="#ff7b2c"/>
<path d="M406.21 463.7L408.41 467.66L404.01 467.66Z" fill="#ff7b2c"/>
<path d="M395.52 461.16L397.72 465.12L393.32 465.12Z" fill="#ff7b2c"/>
<path d="M385.96 455.84L388.16 459.8L383.76 459.8Z" fill="#ff7b2c"/>
<path d="M376.94 449.49L379.14 453.45L374.74 453.45Z" fill="#ff7b2c"/>
<path d="M370.48 440.5L372.68 444.46L368.28 444.46Z" fill="#ff7b2c"/>
<path d="M366.37 430.27L368.57 434.23L364.17 434.23Z" fill="#ff7b2c"/>
<path d="M364.46 419.45L366.66 423.41L362.26 423.41Z" fill="#ff7b2c"/>
<path d="M364.64 408.4L366.84 412.36L362.44 412.36Z" fill="#ff7b2c"/>
<path d="M367.82 397.77L370.02 401.73L365.62 401.73Z" fill="#ff7b2c"/>
<path d="M372.17 387.27L374.37 391.23L369.97 391.23Z" fill="#ff7b2c"/>
<path d="M379.72 378.59L381.92 382.55L377.52 382.55Z" fill="#ff7b2c"/>
<path d="M388.91 371.32L391.11 375.28L386.71 375.28Z" fill="#ff7b2c"/>
<path d="M400.46 369.29L402.66 373.25L398.26 373.25Z" fill="#ff7b2c"/>
<polygon points="410.8,333.6 430.46,336.17 448.61,343.81 464.27,355.38 476.55,370.15 484.01,387.52 488.24,405.45 489,423.65 485.23,441.38 477.27,457.48 465.23,470.45 451.83,481.48 436.09,488.59 419.31,491.94 402.37,491.22 386.74,485.19 372.41,477.47 360.02,467.01 352.35,452.84 347.84,437.95 346.82,422.83 350.37,408.45 354.98,395.02 362.85,383.4 372.98,374.03 384.43,366.59 404.82,393.87" fill="none" stroke="#1b99f7" stroke-width="1.7" stroke-linejoin="round"/>
<circle cx="410.8" cy="333.6" r="1.8" fill="#1b99f7"/>
<circle cx="430.46" cy="336.17" r="1.8" fill="#1b99f7"/>
<circle cx="448.61" cy="343.81" r="1.8" fill="#1b99f7"/>
<circle cx="464.27" cy="355.38" r="1.8" fill="#1b99f7"/>
<circle cx="476.55" cy="370.15" r="1.8" fill="#1b99f7"/>
<circle cx="484.01" cy="387.52" r="1.8" fill="#1b99f7"/>
<circle cx="488.24" cy="405.45" r="1.8" fill="#1b99f7"/>
<circle cx="489" cy="423.65" r="1.8" fill="#1b99f7"/>
<circle cx="485.23" cy="441.38" r="1.8" fill="#1b99f7"/>
<circle cx="477.27" cy="457.48" r="1.8" fill="#1b99f7"/>
<circle cx="465.23" cy="470.45" r="1.8" fill="#1b99f7"/>
<circle cx="451.83" cy="481.48" r="1.8" fill="#1b99f7"/>
<circle cx="436.09" cy="488.59" r="1.8" fill="#1b99f7"/>
<circle cx="419.31" cy="491.94" r="1.8" fill="#1b99f7"/>
<circle cx="402.37" cy="491.22" r="1.8" fill="#1b99f7"/>
<circle cx="386.74" cy="485.19" r="1.8" fill="#1b99f7"/>
<circle cx="372.41" cy="477.47" r="1.8" fill="#1b99f7"/>
<circle cx="360.02" cy="467.01" r="1.8" fill="#1b99f7"/>
<circle cx="352.35" cy="452.84" r="1.8" fill="#1b99f7"/>
<circle cx="347.84" cy="437.95" r="1.8" fill="#1b99f7"/>
<circle cx="346.82" cy="422.83" r="1.8" fill="#1b99f7"/>
<circle cx="350.37" cy="408.45" r="1.8" fill="#1b99f7"/>
<circle cx="354.98" cy="395.02" r="1.8" fill="#1b99f7"/>
<circle cx="362.85" cy="383.4" r="1.8" fill="#1b99f7"/>
<circle cx="372.98" cy="374.03" r="1.8" fill="#1b99f7"/>
<circle cx="384.43" cy="366.59" r="1.8" fill="#1b99f7"/>
<circle cx="404.82" cy="393.87" r="1.8" fill="#1b99f7"/>
<polygon points="410.8,372.53 421.39,374.42 431.41,378.07 440.19,384.07 447.33,391.91 452.53,401.1 455.55,411.21 456.17,421.74 454.34,432.13 450.4,441.96 444.2,450.61 436.54,458.24 426.92,463.39 416.54,468.24 404.81,470.38 394.23,464.62 384.03,459.81 375.02,452.86 369.01,443.23 365.02,432.81 363.09,421.88 362.26,410.54 365.29,399.47 371.72,390 379.54,381.85 389.19,376.06 399.89,373.06" fill="none" stroke="#7d1d8c" stroke-width="1.4" stroke-linejoin="round"/>
<path d="M410.3 370.23L412.6 374.37L408 374.37Z" fill="#7d1d8c"/>
<path d="M420.89 372.12L423.19 376.26L418.59 376.26Z" fill="#7d1d8c"/>
<path d="M430.91 375.77L433.21 379.91L428.61 379.91Z" fill="#7d1d8c"/>
<path d="M439.69 381.77L441.99 385.91L437.39 385.91Z" fill="#7d1d8c"/>
<path d="M446.83 389.61L449.13 393.75L444.53 393.75Z" fill="#7d1d8c"/>
<path d="M452.03 398.8L454.33 402.94L449.73 402.94Z" fill="#7d1d8c"/>
<path d="M455.05 408.91L457.35 413.05L452.75 413.05Z" fill="#7d1d8c"/>
<path d="M455.67 419.44L457.97 423.58L453.37 423.58Z" fill="#7d1d8c"/>
<path d="M453.84 429.83L456.14 433.97L451.54 433.97Z" fill="#7d1d8c"/>
<path d="M449.9 439.66L452.2 443.8L447.6 443.8Z" fill="#7d1d8c"/>
<path d="M443.7 448.31L446 452.45L441.4 452.45Z" fill="#7d1d8c"/>
<path d="M436.04 455.94L438.34 460.08L433.74 460.08Z" fill="#7d1d8c"/>
<path d="M426.42 461.09L428.72 465.23L424.12 465.23Z" fill="#7d1d8c"/>
<path d="M416.04 465.94L418.34 470.08L413.74 470.08Z" fill="#7d1d8c"/>
<path d="M404.31 468.08L406.61 472.22L402.01 472.22Z" fill="#7d1d8c"/>
<path d="M393.73 462.32L396.03 466.46L391.43 466.46Z" fill="#7d1d8c"/>
<path d="M383.53 457.51L385.83 461.65L381.23 461.65Z" fill="#7d1d8c"/>
<path d="M374.52 450.56L376.82 454.7L372.22 454.7Z" fill="#7d1d8c"/>
<path d="M368.51 440.93L370.81 445.07L366.21 445.07Z" fill="#7d1d8c"/>
<path d="M364.52 430.51L366.82 434.65L362.22 434.65Z" fill="#7d1d8c"/>
<path d="M362.59 419.58L364.89 423.72L360.29 423.72Z" fill="#7d1d8c"/>
<path d="M361.76 408.24L364.06 412.38L359.46 412.38Z" fill="#7d1d8c"/>
<path d="M364.79 397.17L367.09 401.31L362.49 401.31Z" fill="#7d1d8c"/>
<path d="M371.22 387.7L373.52 391.84L368.92 391.84Z" fill="#7d1d8c"/>
<path d="M379.04 379.55L381.34 383.69L376.74 383.69Z" fill="#7d1d8c"/>
<path d="M388.69 373.76L390.99 377.9L386.39 377.9Z" fill="#7d1d8c"/>
<path d="M399.39 370.76L401.69 374.9L397.09 374.9Z" fill="#7d1d8c"/>
<polygon points="410.8,346.3 428.97,342.44 437.84,365.27 461.81,358.31 477.28,369.61 477.09,390.51 480.74,406.77 472.02,422.67 472.08,437.45 461.45,448.34 458.6,464.2 445.89,472.45 435.85,487.91 417.54,476.79 406.47,456.18 388.41,480.61 371.26,479.21 368.51,459 352.73,452.63 350.46,437.16 349.69,422.66 351.44,408.63 356.07,395.49 358.31,380.02 367.9,367.98 398.72,395.04 403.19,386.98" fill="none" stroke="#1619a6" stroke-width="1.75" stroke-linejoin="round"/>
<circle cx="410.8" cy="346.3" r="1.6" fill="#1619a6"/>
<circle cx="428.97" cy="342.44" r="1.6" fill="#1619a6"/>
<circle cx="437.84" cy="365.27" r="1.6" fill="#1619a6"/>
<circle cx="461.81" cy="358.31" r="1.6" fill="#1619a6"/>
<circle cx="477.28" cy="369.61" r="1.6" fill="#1619a6"/>
<circle cx="477.09" cy="390.51" r="1.6" fill="#1619a6"/>
<circle cx="480.74" cy="406.77" r="1.6" fill="#1619a6"/>
<circle cx="472.02" cy="422.67" r="1.6" fill="#1619a6"/>
<circle cx="472.08" cy="437.45" r="1.6" fill="#1619a6"/>
<circle cx="461.45" cy="448.34" r="1.6" fill="#1619a6"/>
<circle cx="458.6" cy="464.2" r="1.6" fill="#1619a6"/>
<circle cx="445.89" cy="472.45" r="1.6" fill="#1619a6"/>
<circle cx="435.85" cy="487.91" r="1.6" fill="#1619a6"/>
<circle cx="417.54" cy="476.79" r="1.6" fill="#1619a6"/>
<circle cx="406.47" cy="456.18" r="1.6" fill="#1619a6"/>
<circle cx="388.41" cy="480.61" r="1.6" fill="#1619a6"/>
<circle cx="371.26" cy="479.21" r="1.6" fill="#1619a6"/>
<circle cx="368.51" cy="459" r="1.6" fill="#1619a6"/>
<circle cx="352.73" cy="452.63" r="1.6" fill="#1619a6"/>
<circle cx="350.46" cy="437.16" r="1.6" fill="#1619a6"/>
<circle cx="349.69" cy="422.66" r="1.6" fill="#1619a6"/>
<circle cx="351.44" cy="408.63" r="1.6" fill="#1619a6"/>
<circle cx="356.07" cy="395.49" r="1.6" fill="#1619a6"/>
<circle cx="358.31" cy="380.02" r="1.6" fill="#1619a6"/>
<circle cx="367.9" cy="367.98" r="1.6" fill="#1619a6"/>
<circle cx="398.72" cy="395.04" r="1.6" fill="#1619a6"/>
<circle cx="403.19" cy="386.98" r="1.6" fill="#1619a6"/>
<text x="420.9" y="355.9" text-anchor="middle" font-size="8.7" fill="#262626" stroke="#262626" stroke-width="0.3">0.25</text>
<text x="420.9" y="370.9" text-anchor="middle" font-size="8.7" fill="#262626" stroke="#262626" stroke-width="0.3">0</text>
<text x="422.1" y="394.6" text-anchor="middle" font-size="8.7" fill="#262626" stroke="#262626" stroke-width="0.3">−0.25</text>
<text x="422.1" y="418" text-anchor="middle" font-size="8.7" fill="#262626" stroke="#262626" stroke-width="0.3">−0.5</text>
<text x="414.1" y="318.7" text-anchor="middle" font-size="8.9" fill="#262626" stroke="#262626" stroke-width="0.3">CD28</text>
<text x="444" y="322" text-anchor="middle" font-size="8.9" fill="#262626" stroke="#262626" stroke-width="0.3">CD274</text>
<text x="472.45" y="333.1" text-anchor="middle" font-size="8.9" fill="#262626" stroke="#262626" stroke-width="0.3">CD244</text>
<text x="489.35" y="345.8" text-anchor="middle" font-size="8.9" fill="#262626" stroke="#262626" stroke-width="0.3">CD86</text>
<text x="502.05" y="362.7" text-anchor="middle" font-size="8.9" fill="#262626" stroke="#262626" stroke-width="0.3">CD48</text>
<text x="514.65" y="383.1" text-anchor="middle" font-size="8.9" fill="#262626" stroke="#262626" stroke-width="0.3">LAIR1</text>
<text x="526.05" y="405.4" text-anchor="middle" font-size="8.9" fill="#262626" stroke="#262626" stroke-width="0.3">HAVCR2</text>
<text x="522.2" y="429.2" text-anchor="middle" font-size="8.9" fill="#262626" stroke="#262626" stroke-width="0.3">CD80</text>
<text x="517.25" y="452.4" text-anchor="middle" font-size="8.9" fill="#262626" stroke="#262626" stroke-width="0.3">ICOS</text>
<text x="510.1" y="473.7" text-anchor="middle" font-size="8.9" fill="#262626" stroke="#262626" stroke-width="0.3">CTLA4</text>
<text x="493.45" y="492.7" text-anchor="middle" font-size="8.9" fill="#262626" stroke="#262626" stroke-width="0.3">BTLA</text>
<text x="475.45" y="507.6" text-anchor="middle" font-size="8.9" fill="#262626" stroke="#262626" stroke-width="0.3">TIGIT</text>
<text x="453.8" y="518.7" text-anchor="middle" font-size="8.9" fill="#262626" stroke="#262626" stroke-width="0.3">CD27</text>
<text x="426.35" y="524.3" text-anchor="middle" font-size="8.9" fill="#262626" stroke="#262626" stroke-width="0.3">NRP1</text>
<text x="394.9" y="526.9" text-anchor="middle" font-size="8.9" fill="#262626" stroke="#262626" stroke-width="0.3">TNFSF14</text>
<text x="365.45" y="518.2" text-anchor="middle" font-size="8.9" fill="#262626" stroke="#262626" stroke-width="0.3">LAG3</text>
<text x="348.95" y="508.4" text-anchor="middle" font-size="8.9" fill="#262626" stroke="#262626" stroke-width="0.3">IDO1</text>
<text x="322.95" y="494.4" text-anchor="middle" font-size="8.9" fill="#262626" stroke="#262626" stroke-width="0.3">TNFRSF9</text>
<text x="310.8" y="474" text-anchor="middle" font-size="8.9" fill="#262626" stroke="#262626" stroke-width="0.3">CD200</text>
<text x="303" y="452.3" text-anchor="middle" font-size="8.9" fill="#262626" stroke="#262626" stroke-width="0.3">CD160</text>
<text x="295.6" y="429.1" text-anchor="middle" font-size="8.9" fill="#262626" stroke="#262626" stroke-width="0.3">TNFSF9</text>
<text x="300.45" y="405.5" text-anchor="middle" font-size="8.9" fill="#262626" stroke="#262626" stroke-width="0.3">CD40</text>
<text x="301.65" y="380.9" text-anchor="middle" font-size="8.9" fill="#262626" stroke="#262626" stroke-width="0.3">TNFRSF4</text>
<text x="317" y="360.9" text-anchor="middle" font-size="8.9" fill="#262626" stroke="#262626" stroke-width="0.3">HHLA2</text>
<text x="333.05" y="343.9" text-anchor="middle" font-size="8.9" fill="#262626" stroke="#262626" stroke-width="0.3">LGALS9</text>
<text x="352.95" y="332.4" text-anchor="middle" font-size="8.9" fill="#262626" stroke="#262626" stroke-width="0.3">TMIGD2</text>
<text x="374.9" y="320.6" text-anchor="middle" font-size="8.9" fill="#262626" stroke="#262626" stroke-width="0.3">TNFRSF25</text>
<line x1="401" y1="34.0" x2="409.8" y2="34.0" stroke="#1b99f7" stroke-width="1.8"/>
<ellipse cx="405.4" cy="34.0" rx="2.2" ry="1.76" fill="#1b99f7"/>
<text x="412.6" y="37.3" font-size="10.9" fill="#262626" stroke="#262626" stroke-width="0.15">R^2 in TCGA</text>
<line x1="401" y1="46.3" x2="409.8" y2="46.3" stroke="#ff7b2c" stroke-width="1.8"/>
<ellipse cx="405.4" cy="46.3" rx="2.4" ry="1.92" fill="#ff7b2c"/>
<text x="412.6" y="49.6" font-size="10.9" fill="#262626" stroke="#262626" stroke-width="0.15"><tspan font-style="italic">P</tspan> value in TCGA</text>
<line x1="401" y1="58.6" x2="409.8" y2="58.6" stroke="#1619a6" stroke-width="1.8"/>
<ellipse cx="405.4" cy="58.6" rx="1.8" ry="1.44" fill="#1619a6"/>
<text x="412.6" y="61.9" font-size="10.9" fill="#262626" stroke="#262626" stroke-width="0.15">R^2 in GSE39582</text>
<line x1="401" y1="70.9" x2="409.8" y2="70.9" stroke="#7d1d8c" stroke-width="1.8"/>
<ellipse cx="405.4" cy="70.9" rx="1.9" ry="1.52" fill="#7d1d8c"/>
<text x="412.6" y="74.2" font-size="10.9" fill="#262626" stroke="#262626" stroke-width="0.15"><tspan font-style="italic">P</tspan> value in GSE39582</text>
<text x="96.7" y="18.2" font-size="10.9" fill="#111">(<tspan font-weight="bold">a</tspan>)</text>
<text x="12.7" y="298.2" font-size="10.3" fill="#111">(<tspan font-weight="bold">b</tspan>)</text>
<text x="276.9" y="298.2" font-size="10.3" fill="#111">(<tspan font-weight="bold">c</tspan>)</text>
</svg>
</body></html>
